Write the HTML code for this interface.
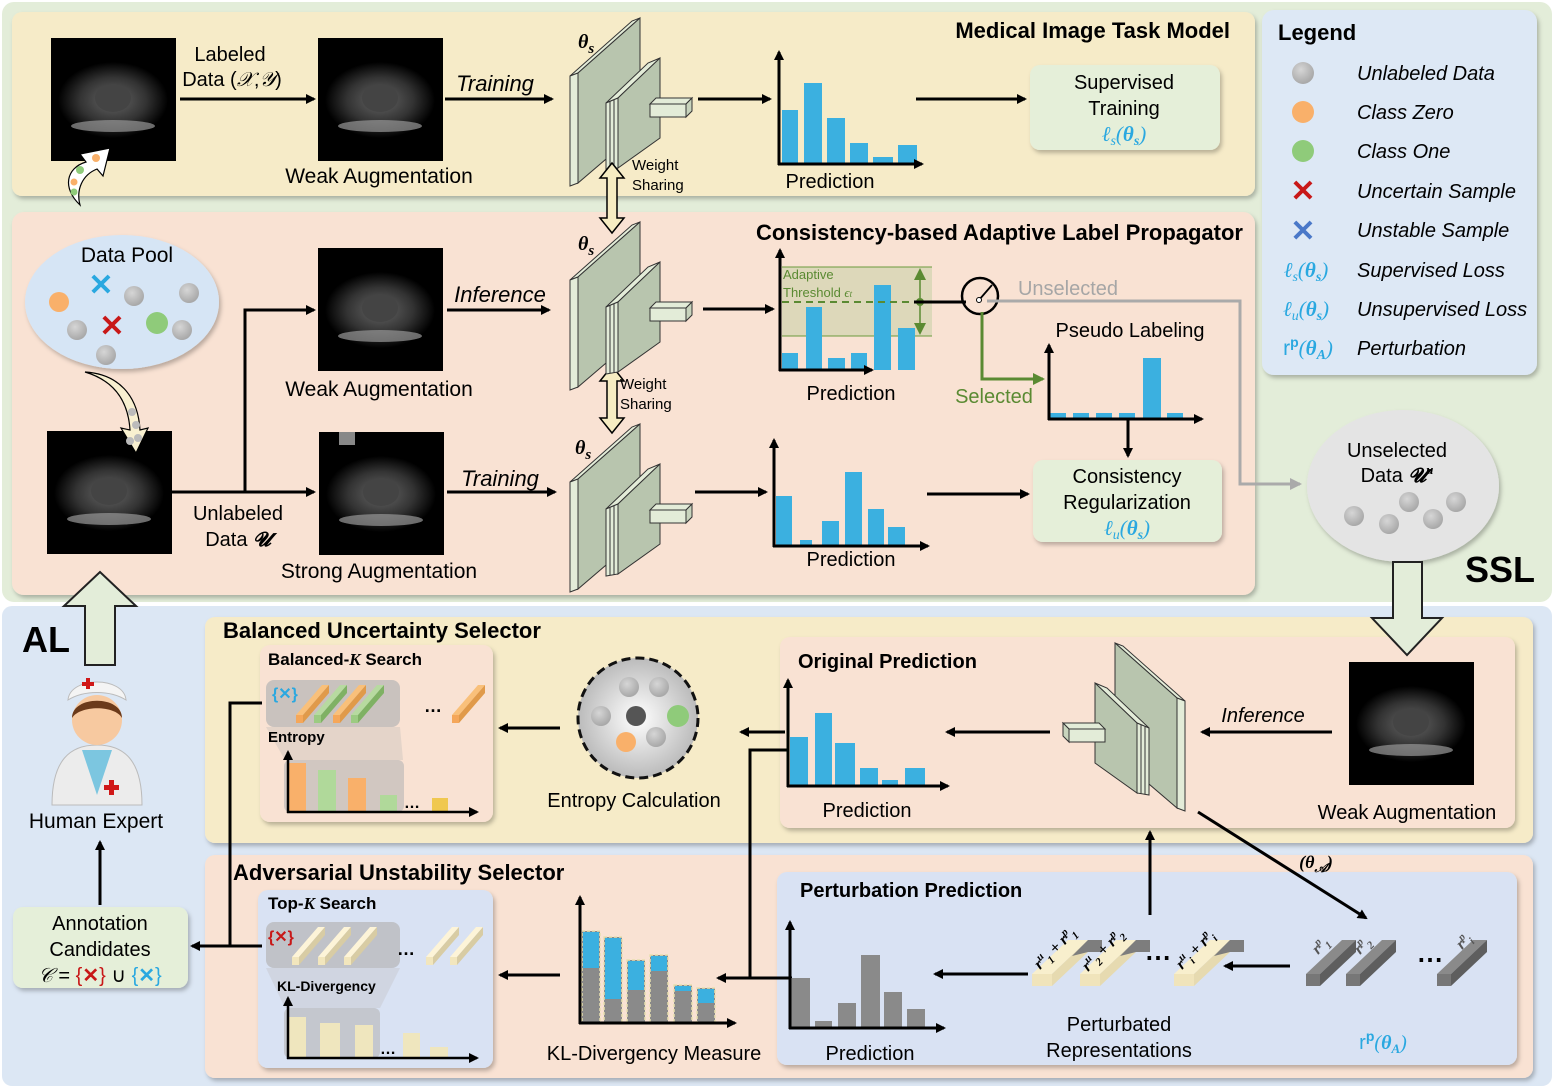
<!DOCTYPE html>
<html><head><meta charset="utf-8">
<style>
html,body{margin:0;padding:0;background:#fff;}
svg{display:block;font-family:"Liberation Sans",sans-serif;}
.m{font-family:"Liberation Serif",serif;font-style:italic;}
.b{font-weight:bold;}
.i{font-style:italic;}
</style></head><body>
<svg width="1558" height="1092" viewBox="0 0 1558 1092" xmlns="http://www.w3.org/2000/svg">
<defs>
<marker id="ah" markerWidth="10" markerHeight="10" refX="8" refY="5" orient="auto" markerUnits="userSpaceOnUse"><path d="M0,0 L10,5 L0,10 z" fill="#000"/></marker>
<marker id="ahg" markerWidth="12" markerHeight="12" refX="10" refY="6" orient="auto" markerUnits="userSpaceOnUse"><path d="M0,0 L12,6 L0,12 z" fill="#aaa"/></marker>
<marker id="ahgr" markerWidth="12" markerHeight="12" refX="10" refY="6" orient="auto" markerUnits="userSpaceOnUse"><path d="M0,0 L12,6 L0,12 z" fill="#5a8a32"/></marker>
<radialGradient id="mri" cx="50%" cy="50%" r="50%"><stop offset="0" stop-color="#666"/><stop offset="0.6" stop-color="#333"/><stop offset="1" stop-color="#000"/></radialGradient>
<radialGradient id="ent" cx="50%" cy="50%" r="50%"><stop offset="0" stop-color="#fff"/><stop offset="1" stop-color="#bbb"/></radialGradient>
<radialGradient id="dg" cx="40%" cy="35%" r="65%"><stop offset="0" stop-color="#d6d6d6"/><stop offset="1" stop-color="#a8a8a8"/></radialGradient>
<filter id="sh" x="-10%" y="-10%" width="120%" height="130%"><feDropShadow dx="2" dy="3" stdDeviation="2" flood-color="#000" flood-opacity="0.25"/></filter>
<g id="net">
<polygon points="2,58 64,3 72,0 10,55" fill="#e3ecd8" stroke="#333" stroke-width="1"/>
<polygon points="2,58 10,55 10,165 2,168" fill="#e3ecd8" stroke="#333" stroke-width="1"/>
<polygon points="10,55 72,0 72,112 10,165" fill="#b8c5ae" stroke="#333" stroke-width="1"/>
<polygon points="38,85 80,45 92,40 50,80" fill="#e3ecd8" stroke="#333"/>
<polygon points="38,85 50,80 50,150 38,152" fill="#e3ecd8" stroke="#333"/>
<line x1="42" y1="83" x2="42" y2="151" stroke="#333"/><line x1="46" y1="82" x2="46" y2="151" stroke="#333"/>
<polygon points="50,80 92,40 92,120 50,150" fill="#b8c5ae" stroke="#333"/>
<polygon points="82,86 118,86 124,80 88,80" fill="#e3ecd8" stroke="#333"/>
<rect x="82" y="86" width="36" height="13" fill="#e3ecd8" stroke="#333"/>
<polygon points="118,86 124,80 124,93 118,99" fill="#c8d4bd" stroke="#333"/>
</g>
<g id="so"><polygon points="0,42 7,42 33,12 26,12" fill="#f9c07a"/><polygon points="7,42 7,50 33,20 33,12" fill="#e09a4a"/><rect x="0" y="42" width="7" height="8" fill="#f5a75a"/></g>
<g id="sg"><polygon points="0,42 7,42 33,12 26,12" fill="#b7daa0"/><polygon points="7,42 7,50 33,20 33,12" fill="#7fb164"/><rect x="0" y="42" width="7" height="8" fill="#9ccb82"/></g>
<g id="sc"><polygon points="0,42 7,42 33,12 26,12" fill="#fdf4d8"/><polygon points="7,42 7,50 33,20 33,12" fill="#d8cca4"/><rect x="0" y="42" width="7" height="8" fill="#f2e6bd"/></g>
<g id="sgr"><polygon points="0,40 14,40 50,6 36,6" fill="#8a8a8a"/><polygon points="14,40 14,52 50,18 50,6" fill="#5e5e5e"/><rect x="0" y="40" width="14" height="12" fill="#777"/></g>
<g id="scl"><polygon points="0,40 20,40 56,6 36,6" fill="#f8efcd"/><polygon points="20,40 20,52 56,18 56,6" fill="#e6dab0"/><rect x="0" y="40" width="20" height="12" fill="#f0e4bb"/><polygon points="40,22 56,6 70,6 70,18 56,18" fill="#7d7d7d"/></g>
<g id="img"><rect width="125" height="123" fill="#000"/><ellipse cx="62" cy="62" rx="55" ry="38" fill="url(#mri)"/><ellipse cx="62" cy="88" rx="42" ry="6" fill="#999" opacity="0.7"/><ellipse cx="62" cy="60" rx="18" ry="14" fill="#444"/></g>
</defs>

<rect x="2" y="2" width="1550" height="600" rx="12" fill="#e3edd9"/>
<rect x="12" y="12" width="1243" height="184" rx="10" fill="#f6ebc8" filter="url(#sh)"/>
<rect x="12" y="212" width="1243" height="383" rx="12" fill="#f9e2d3" filter="url(#sh)"/>
<rect x="1262" y="10" width="275" height="365" rx="12" fill="#dde8f5" filter="url(#sh)"/>
<rect x="2" y="606" width="1550" height="480" rx="10" fill="#dce7f4"/>
<rect x="205" y="617" width="1328" height="226" rx="10" fill="#f6ebc8" filter="url(#sh)"/>
<rect x="205" y="855" width="1328" height="223" rx="10" fill="#f9e2d3" filter="url(#sh)"/>
<rect x="260" y="645" width="233" height="177" rx="10" fill="#f9e2d3" filter="url(#sh)"/>
<rect x="780" y="637" width="735" height="191" rx="10" fill="#f9e2d3" filter="url(#sh)"/>
<rect x="258" y="890" width="235" height="178" rx="10" fill="#d9e2f3" filter="url(#sh)"/>
<rect x="777" y="872" width="740" height="193" rx="10" fill="#d9e2f3" filter="url(#sh)"/>

<text x="1230" y="38" font-size="22" class="b" text-anchor="end">Medical Image Task Model</text>
<text x="1243" y="240" font-size="22" class="b" text-anchor="end">Consistency-based Adaptive Label Propagator</text>
<text x="1500" y="582" font-size="36" class="b" text-anchor="middle">SSL</text>
<text x="46" y="652" font-size="36" class="b" text-anchor="middle">AL</text>
<text x="223" y="638" font-size="22" class="b">Balanced Uncertainty Selector</text>
<text x="233" y="880" font-size="22" class="b">Adversarial Unstability Selector</text>

<use href="#img" x="51" y="38"/>
<use href="#img" x="318" y="38"/>
<use href="#img" x="318" y="248"/>
<use href="#img" x="47" y="431"/>
<use href="#img" x="319" y="432"/>
<rect x="339" y="432" width="16" height="13" fill="#888"/>
<use href="#img" x="1349" y="662"/>

<text x="230" y="61" font-size="20" text-anchor="middle">Labeled</text>
<text x="232" y="86" font-size="20" text-anchor="middle">Data (<tspan class="m">𝒳</tspan>,<tspan class="m">𝒴</tspan>)</text>
<line x1="180" y1="99" x2="314" y2="99" stroke="#000" stroke-width="3" marker-end="url(#ah)"/>
<text x="379" y="183" font-size="21" text-anchor="middle">Weak Augmentation</text>
<text x="495" y="91" font-size="22" class="i" text-anchor="middle">Training</text>
<line x1="445" y1="99" x2="552" y2="99" stroke="#000" stroke-width="3" marker-end="url(#ah)"/>
<use href="#net" x="568" y="18"/>
<text x="578" y="48" font-size="20" class="m b">θ<tspan font-size="15" dy="5">s</tspan></text>
<text x="632" y="170" font-size="15">Weight</text><text x="632" y="190" font-size="15">Sharing</text>
<line x1="698" y1="99" x2="770" y2="99" stroke="#000" stroke-width="3" marker-end="url(#ah)"/>
<g fill="#3bb0e0"><rect x="782" y="110" width="16" height="54"/><rect x="804" y="83" width="18" height="81"/><rect x="827" y="118" width="18" height="46"/><rect x="850" y="143" width="18" height="21"/><rect x="873" y="157" width="20" height="7"/><rect x="898" y="145" width="19" height="19"/></g>
<line x1="779" y1="165" x2="779" y2="52" stroke="#000" stroke-width="3" marker-end="url(#ah)"/>
<line x1="778" y1="164" x2="922" y2="164" stroke="#000" stroke-width="3" marker-end="url(#ah)"/>
<text x="830" y="188" font-size="20" text-anchor="middle">Prediction</text>
<line x1="916" y1="99" x2="1025" y2="99" stroke="#000" stroke-width="3" marker-end="url(#ah)"/>
<rect x="1030" y="65" width="190" height="85" rx="10" fill="#e5efd9" filter="url(#sh)"/>
<text x="1124" y="89" font-size="20" text-anchor="middle">Supervised</text>
<text x="1124" y="115" font-size="20" text-anchor="middle">Training</text>
<text x="1124" y="141" font-size="21" text-anchor="middle" fill="#2aa8e0" class="m">ℓ<tspan font-size="14" dy="4">s</tspan><tspan dy="-4">(</tspan><tspan class="b">θ</tspan><tspan font-size="14" dy="4" class="b">s</tspan><tspan dy="-4">)</tspan></text>

<polygon points="612,163 624,178 617,178 617,218 624,218 612,233 600,218 607,218 607,178 600,178" fill="#f6ecc2" stroke="#000" stroke-width="1.5"/>
<polygon points="612,366 624,381 617,381 617,418 624,418 612,433 600,418 607,418 607,381 600,381" fill="#f6ecc2" stroke="#000" stroke-width="1.5"/>

<ellipse cx="122" cy="302" rx="97" ry="67" fill="#d6e5f5" filter="url(#sh)"/>
<text x="127" y="262" font-size="21" text-anchor="middle">Data Pool</text>
<g fill="url(#dg)"><circle cx="134" cy="296" r="10"/><circle cx="189" cy="293" r="10"/><circle cx="77" cy="330" r="10"/><circle cx="182" cy="330" r="10"/><circle cx="106" cy="355" r="10"/></g>
<circle cx="59" cy="302" r="10" fill="#f9b06a"/><circle cx="157" cy="323" r="11" fill="#8fcb7a"/>
<text x="101" y="295" font-size="30" fill="#2aa8e0" text-anchor="middle" class="b">✕</text>
<text x="112" y="336" font-size="30" fill="#c81818" text-anchor="middle" class="b">✕</text>
<path d="M80,205 C62,188 66,168 86,162 L80,154 L110,148 L103,176 L97,169 C82,175 76,190 80,205 z" fill="#fff" stroke="#000" stroke-width="1.2"/>
<circle cx="96" cy="158" r="4" fill="#f9b06a"/><circle cx="80" cy="170" r="4" fill="#8fcb7a"/><circle cx="74" cy="182" r="3.5" fill="#f9b06a"/><circle cx="74" cy="192" r="3.5" fill="#8fcb7a"/>
<path d="M85,372 C112,380 128,398 130,430 L121,428 L136,453 L148,428 L140,430 C138,395 118,374 85,372 z" fill="#f8f0d0" stroke="#000" stroke-width="1.2"/>
<circle cx="132" cy="412" r="4" fill="#bbb"/><circle cx="136" cy="425" r="4" fill="#bbb"/><circle cx="138" cy="438" r="4" fill="#bbb"/><circle cx="130" cy="441" r="4" fill="#bbb"/>

<polyline points="172,492 245,492 245,310 314,310" fill="none" stroke="#000" stroke-width="3" marker-end="url(#ah)"/>
<line x1="172" y1="492" x2="314" y2="492" stroke="#000" stroke-width="3" marker-end="url(#ah)"/>
<text x="238" y="520" font-size="20" text-anchor="middle">Unlabeled</text>
<text x="238" y="546" font-size="20" text-anchor="middle">Data <tspan class="m b">𝓤</tspan></text>
<text x="379" y="396" font-size="21" text-anchor="middle">Weak Augmentation</text>
<text x="379" y="578" font-size="21" text-anchor="middle">Strong Augmentation</text>
<text x="500" y="302" font-size="22" class="i" text-anchor="middle">Inference</text>
<line x1="447" y1="310" x2="549" y2="310" stroke="#000" stroke-width="3" marker-end="url(#ah)"/>
<text x="500" y="486" font-size="22" class="i" text-anchor="middle">Training</text>
<line x1="447" y1="492" x2="555" y2="492" stroke="#000" stroke-width="3" marker-end="url(#ah)"/>
<use href="#net" x="568" y="222"/>
<text x="578" y="250" font-size="20" class="m b">θ<tspan font-size="15" dy="5">s</tspan></text>
<text x="620" y="389" font-size="15">Weight</text><text x="620" y="409" font-size="15">Sharing</text>
<use href="#net" x="568" y="424"/>
<text x="575" y="454" font-size="20" class="m b">θ<tspan font-size="15" dy="5">s</tspan></text>

<line x1="703" y1="309" x2="773" y2="309" stroke="#000" stroke-width="3" marker-end="url(#ah)"/>
<rect x="782" y="267" width="150" height="69" fill="#d6d6b4" opacity="0.8"/>
<line x1="782" y1="267" x2="932" y2="267" stroke="#6a9a3c" stroke-width="1"/>
<line x1="782" y1="336" x2="932" y2="336" stroke="#6a9a3c" stroke-width="1"/>
<g fill="#3bb0e0"><rect x="782" y="353" width="16" height="17"/><rect x="806" y="307" width="16" height="63"/><rect x="828" y="358" width="17" height="12"/><rect x="851" y="353" width="16" height="17"/><rect x="874" y="285" width="17" height="85"/><rect x="898" y="328" width="17" height="42"/></g>
<line x1="782" y1="302" x2="940" y2="302" stroke="#5a8a32" stroke-width="2" stroke-dasharray="7,5"/>
<circle cx="920" cy="302" r="4" fill="#5a8a32"/>
<line x1="920" y1="298" x2="920" y2="270" stroke="#5a8a32" stroke-width="1.5" marker-end="url(#ahgr)"/>
<line x1="920" y1="306" x2="920" y2="333" stroke="#5a8a32" stroke-width="1.5" marker-end="url(#ahgr)"/>
<line x1="780" y1="371" x2="780" y2="250" stroke="#000" stroke-width="3" marker-end="url(#ah)"/>
<line x1="779" y1="370" x2="872" y2="370" stroke="#000" stroke-width="3" marker-end="url(#ah)"/>
<text x="783" y="279" font-size="13" fill="#5a8a32">Adaptive</text>
<text x="783" y="297" font-size="13" fill="#5a8a32">Threshold <tspan class="m">ϵ</tspan><tspan font-size="9" class="m">t</tspan></text>
<text x="851" y="400" font-size="20" text-anchor="middle">Prediction</text>
<line x1="914" y1="302" x2="966" y2="302" stroke="#000" stroke-width="3"/>
<circle cx="980" cy="296" r="18" fill="none" stroke="#000" stroke-width="2.5"/>
<line x1="979" y1="300" x2="992" y2="285" stroke="#000" stroke-width="1.8"/>
<circle cx="979" cy="300" r="2.5" fill="#fff" stroke="#000"/>
<polyline points="987,301 1240,301 1240,484 1300,484" fill="none" stroke="#aaa" stroke-width="3" marker-end="url(#ahg)"/>
<text x="1068" y="295" font-size="20" fill="#a6a6a6" text-anchor="middle">Unselected</text>
<polyline points="982,312 982,379 1043,379" fill="none" stroke="#5a8a32" stroke-width="3" marker-end="url(#ahgr)"/>
<text x="994" y="403" font-size="20" fill="#5a8a32" text-anchor="middle">Selected</text>
<text x="1130" y="337" font-size="20" text-anchor="middle">Pseudo  Labeling</text>
<g fill="#3bb0e0"><rect x="1050" y="413" width="16" height="6"/><rect x="1073" y="413" width="16" height="6"/><rect x="1096" y="413" width="16" height="6"/><rect x="1119" y="413" width="16" height="6"/><rect x="1143" y="358" width="18" height="61"/><rect x="1167" y="413" width="16" height="6"/></g>
<line x1="1049" y1="420" x2="1049" y2="345" stroke="#000" stroke-width="3" marker-end="url(#ah)"/>
<line x1="1048" y1="419" x2="1202" y2="419" stroke="#000" stroke-width="3" marker-end="url(#ah)"/>
<line x1="1128" y1="420" x2="1128" y2="456" stroke="#000" stroke-width="3" marker-end="url(#ah)"/>
<rect x="1033" y="460" width="189" height="82" rx="10" fill="#e5efd9" filter="url(#sh)"/>
<text x="1127" y="483" font-size="20" text-anchor="middle">Consistency</text>
<text x="1127" y="509" font-size="20" text-anchor="middle">Regularization</text>
<text x="1127" y="535" font-size="21" text-anchor="middle" fill="#2aa8e0" class="m">ℓ<tspan font-size="14" dy="4">u</tspan><tspan dy="-4">(</tspan><tspan class="b">θ</tspan><tspan font-size="14" dy="4" class="b">s</tspan><tspan dy="-4">)</tspan></text>
<line x1="695" y1="492" x2="766" y2="492" stroke="#000" stroke-width="3" marker-end="url(#ah)"/>
<g fill="#3bb0e0"><rect x="776" y="496" width="16" height="50"/><rect x="800" y="540" width="12" height="6"/><rect x="822" y="521" width="17" height="25"/><rect x="845" y="472" width="17" height="74"/><rect x="868" y="509" width="16" height="37"/><rect x="888" y="527" width="17" height="19"/></g>
<line x1="774" y1="547" x2="774" y2="440" stroke="#000" stroke-width="3" marker-end="url(#ah)"/>
<line x1="773" y1="546" x2="928" y2="546" stroke="#000" stroke-width="3" marker-end="url(#ah)"/>
<text x="851" y="566" font-size="20" text-anchor="middle">Prediction</text>
<line x1="927" y1="494" x2="1028" y2="494" stroke="#000" stroke-width="3" marker-end="url(#ah)"/>

<ellipse cx="1403" cy="486" rx="96" ry="76" fill="#e4e4e4" filter="url(#sh)"/>
<text x="1397" y="457" font-size="20" text-anchor="middle">Unselected</text>
<text x="1397" y="482" font-size="20" text-anchor="middle">Data <tspan class="m b">𝓤</tspan><tspan font-size="13" class="m b" dy="-8">u</tspan></text>
<g fill="url(#dg)"><circle cx="1354" cy="516" r="10"/><circle cx="1389" cy="524" r="10"/><circle cx="1409" cy="502" r="10"/><circle cx="1433" cy="519" r="10"/><circle cx="1456" cy="502" r="10"/></g>

<polygon points="1393,562 1422,562 1422,618 1442,618 1407,655 1372,618 1393,618" fill="#e3edd9" stroke="#222" stroke-width="2"/>
<polygon points="85,665 115,665 115,606 136,606 100,572 64,606 85,606" fill="#e3edd9" stroke="#222" stroke-width="2"/>

<text x="1278" y="40" font-size="22" class="b">Legend</text>
<g font-size="20" class="i">
<text x="1357" y="80">Unlabeled Data</text>
<text x="1357" y="119">Class Zero</text>
<text x="1357" y="158">Class One</text>
<text x="1357" y="198">Uncertain Sample</text>
<text x="1357" y="237">Unstable Sample</text>
<text x="1357" y="277">Supervised Loss</text>
<text x="1357" y="316">Unsupervised Loss</text>
<text x="1357" y="355">Perturbation</text>
</g>
<circle cx="1303" cy="73" r="11" fill="url(#dg)"/>
<circle cx="1303" cy="112" r="11" fill="#f9b06a"/>
<circle cx="1303" cy="151" r="11" fill="#8fcb7a"/>
<text x="1303" y="201" font-size="30" fill="#c81818" text-anchor="middle" class="b">✕</text>
<text x="1303" y="241" font-size="30" fill="#4a78c8" text-anchor="middle" class="b">✕</text>
<g fill="#2aa8e0" font-size="21" class="m" text-anchor="middle">
<text x="1306" y="277">ℓ<tspan font-size="14" dy="4">s</tspan><tspan dy="-4">(</tspan><tspan class="b">θ</tspan><tspan font-size="14" dy="4" class="b">s</tspan><tspan dy="-4">)</tspan></text>
<text x="1306" y="316">ℓ<tspan font-size="14" dy="4">u</tspan><tspan dy="-4">(</tspan><tspan class="b">θ</tspan><tspan font-size="14" dy="4" class="b">s</tspan><tspan dy="-4">)</tspan></text>
<text x="1308" y="355"><tspan font-style="normal" font-family="Liberation Sans">r</tspan><tspan font-size="14" dy="-8" class="b" font-style="normal" font-family="Liberation Sans">p</tspan><tspan dy="8">(</tspan><tspan class="b">θ</tspan><tspan font-size="14" dy="4" class="b">A</tspan><tspan dy="-4">)</tspan></text>
</g>

<path d="M52,805 C52,760 70,745 97,745 C124,745 142,760 142,805 z" fill="#ececec" stroke="#bbb"/>
<polygon points="82,750 112,750 97,795" fill="#7cc6e0"/>
<circle cx="97" cy="720" r="25" fill="#f7c9a0"/>
<path d="M72,718 C72,695 122,695 122,718 C115,705 80,705 72,718 z" fill="#6b3a1a"/>
<path d="M68,700 C70,676 124,676 126,700 C110,690 84,690 68,700 z" fill="#f4f4f4" stroke="#bbb"/>
<rect x="86" y="678" width="4" height="11" fill="#d01818"/><rect x="82" y="682" width="12" height="4" fill="#d01818"/>
<rect x="109" y="780" width="5" height="15" fill="#d01818"/><rect x="104" y="785" width="15" height="5" fill="#d01818"/>
<text x="96" y="828" font-size="21" text-anchor="middle">Human Expert</text>
<line x1="100" y1="905" x2="100" y2="842" stroke="#000" stroke-width="3" marker-end="url(#ah)"/>
<rect x="13" y="907" width="175" height="81" rx="10" fill="#e5efd9" filter="url(#sh)"/>
<text x="100" y="930" font-size="20" text-anchor="middle">Annotation</text>
<text x="100" y="956" font-size="20" text-anchor="middle">Candidates</text>
<text x="100" y="982" font-size="20" text-anchor="middle"><tspan class="m">𝒞</tspan> = <tspan fill="#c81818">{<tspan class="b">✕</tspan>}</tspan> ∪ <tspan fill="#2aa8e0">{<tspan class="b">✕</tspan>}</tspan></text>
<polyline points="262,703 230,703 230,946" fill="none" stroke="#000" stroke-width="3"/>
<line x1="262" y1="946" x2="192" y2="946" stroke="#000" stroke-width="3" marker-end="url(#ah)"/>

<text x="268" y="665" font-size="17" class="b">Balanced-<tspan class="m">K</tspan> Search</text>
<rect x="266" y="680" width="134" height="47" rx="8" fill="#b5b5b5" opacity="0.7"/>
<polygon points="266,727 400,727 403,760 285,760" fill="#d0c6c0" opacity="0.5"/>
<rect x="284" y="760" width="120" height="52" rx="6" fill="#b5b5b5" opacity="0.6"/>
<text x="272" y="699" font-size="16" fill="#2aa8e0" class="b">{✕}</text>
<use href="#so" x="296" y="673"/><use href="#sg" x="314" y="673"/><use href="#so" x="333" y="673"/><use href="#sg" x="351" y="673"/>
<text x="424" y="712" font-size="18" class="b">…</text>
<use href="#so" x="452" y="673"/>
<text x="268" y="742" font-size="15" class="b">Entropy</text>
<rect x="288" y="763" width="18" height="49" fill="#f9b06a"/><rect x="318" y="770" width="18" height="42" fill="#b0d99a"/><rect x="348" y="778" width="18" height="34" fill="#f9b06a"/><rect x="380" y="795" width="17" height="17" fill="#b0d99a"/>
<text x="404" y="808" font-size="16" class="b">…</text>
<rect x="432" y="798" width="16" height="14" fill="#f0c850"/>
<line x1="288" y1="813" x2="288" y2="752" stroke="#000" stroke-width="2.5" marker-end="url(#ah)"/>
<line x1="287" y1="812" x2="477" y2="812" stroke="#000" stroke-width="2.5" marker-end="url(#ah)"/>
<line x1="560" y1="728" x2="500" y2="728" stroke="#000" stroke-width="3" marker-end="url(#ah)"/>
<circle cx="638" cy="718" r="60" fill="url(#ent)" stroke="#111" stroke-width="3" stroke-dasharray="9,5"/>
<g fill="url(#dg)"><circle cx="629" cy="687" r="10"/><circle cx="659" cy="687" r="10"/><circle cx="601" cy="716" r="10"/><circle cx="656" cy="737" r="10"/></g>
<circle cx="636" cy="716" r="10" fill="#555"/><circle cx="678" cy="716" r="11" fill="#8fcb7a"/><circle cx="626" cy="742" r="10" fill="#f9b06a"/>
<text x="634" y="807" font-size="20" text-anchor="middle">Entropy Calculation</text>
<line x1="785" y1="732" x2="741" y2="732" stroke="#000" stroke-width="3" marker-end="url(#ah)"/>

<text x="798" y="668" font-size="20" class="b">Original Prediction</text>
<g fill="#3bb0e0"><rect x="790" y="737" width="18" height="49"/><rect x="815" y="713" width="17" height="73"/><rect x="835" y="743" width="20" height="43"/><rect x="860" y="768" width="18" height="18"/><rect x="882" y="780" width="16" height="6"/><rect x="905" y="768" width="20" height="18"/></g>
<line x1="788" y1="787" x2="788" y2="680" stroke="#000" stroke-width="3" marker-end="url(#ah)"/>
<line x1="787" y1="786" x2="948" y2="786" stroke="#000" stroke-width="3" marker-end="url(#ah)"/>
<text x="867" y="817" font-size="20" text-anchor="middle">Prediction</text>
<line x1="1050" y1="732" x2="947" y2="732" stroke="#000" stroke-width="3" marker-end="url(#ah)"/>
<use href="#net" transform="translate(1187,643) scale(-1,1)"/>
<text x="1263" y="722" font-size="20" class="i" text-anchor="middle">Inference</text>
<line x1="1332" y1="732" x2="1202" y2="732" stroke="#000" stroke-width="3" marker-end="url(#ah)"/>
<text x="1407" y="819" font-size="20" text-anchor="middle">Weak Augmentation</text>
<polyline points="788,750 750,750 750,978" fill="none" stroke="#000" stroke-width="3"/>
<line x1="792" y1="978" x2="718" y2="978" stroke="#000" stroke-width="3" marker-end="url(#ah)"/>
<line x1="1150" y1="915" x2="1150" y2="832" stroke="#000" stroke-width="3" marker-end="url(#ah)"/>
<line x1="1198" y1="812" x2="1366" y2="918" stroke="#000" stroke-width="3" marker-end="url(#ah)"/>
<text x="1316" y="868" font-size="18" class="m b" text-anchor="middle">(θ<tspan font-size="13" dy="4">𝒜</tspan><tspan dy="-4">)</tspan></text>

<text x="800" y="897" font-size="20" class="b">Perturbation Prediction</text>
<g fill="#8a8a8a"><rect x="790" y="978" width="20" height="50"/><rect x="815" y="1021" width="17" height="7"/><rect x="838" y="1003" width="18" height="25"/><rect x="861" y="955" width="19" height="73"/><rect x="884" y="992" width="18" height="36"/><rect x="907" y="1009" width="18" height="19"/></g>
<line x1="790" y1="1029" x2="790" y2="922" stroke="#000" stroke-width="3" marker-end="url(#ah)"/>
<line x1="789" y1="1028" x2="944" y2="1028" stroke="#000" stroke-width="3" marker-end="url(#ah)"/>
<text x="870" y="1060" font-size="20" text-anchor="middle">Prediction</text>
<line x1="1028" y1="974" x2="935" y2="974" stroke="#000" stroke-width="3" marker-end="url(#ah)"/>
<use href="#scl" x="1032" y="934"/><use href="#scl" x="1080" y="934"/><use href="#scl" x="1174" y="934"/>
<text x="1158" y="966" font-size="26" class="b" text-anchor="middle">⋯</text>
<g font-size="16" class="m b" fill="#000">
<text transform="translate(1040,970) rotate(-45)">r<tspan font-size="11" dy="-6">u</tspan><tspan font-size="11" dy="10">1</tspan><tspan dy="-4"> + r</tspan><tspan font-size="11" dy="-6">p</tspan><tspan font-size="11" dy="10">1</tspan></text>
<text transform="translate(1088,972) rotate(-45)">r<tspan font-size="11" dy="-6">u</tspan><tspan font-size="11" dy="10">2</tspan><tspan dy="-4"> + r</tspan><tspan font-size="11" dy="-6">p</tspan><tspan font-size="11" dy="10">2</tspan></text>
<text transform="translate(1182,970) rotate(-45)">r<tspan font-size="11" dy="-6">u</tspan><tspan font-size="11" dy="10">i</tspan><tspan dy="-4"> + r</tspan><tspan font-size="11" dy="-6">p</tspan><tspan font-size="11" dy="10">i</tspan></text>
</g>
<text x="1119" y="1031" font-size="20" text-anchor="middle">Perturbated</text>
<text x="1119" y="1057" font-size="20" text-anchor="middle">Representations</text>
<line x1="1290" y1="966" x2="1225" y2="966" stroke="#000" stroke-width="3" marker-end="url(#ah)"/>
<use href="#sgr" x="1306" y="934"/><use href="#sgr" x="1346" y="934"/><use href="#sgr" x="1437" y="934"/>
<text x="1430" y="968" font-size="26" class="b" text-anchor="middle">⋯</text>
<g font-size="16" class="m b" fill="#555">
<text transform="translate(1318,955) rotate(-45)">r<tspan font-size="11" dy="-6">p</tspan><tspan font-size="11" dy="10">1</tspan></text>
<text transform="translate(1360,955) rotate(-45)">r<tspan font-size="11" dy="-6">p</tspan><tspan font-size="11" dy="10">2</tspan></text>
<text transform="translate(1462,950) rotate(-45)">r<tspan font-size="11" dy="-6">p</tspan><tspan font-size="11" dy="10">i</tspan></text>
</g>
<text x="1383" y="1049" font-size="20" fill="#2aa8e0" text-anchor="middle">r<tspan font-size="14" dy="-8" class="b">p</tspan><tspan dy="8" class="m">(</tspan><tspan class="m b">θ</tspan><tspan font-size="13" dy="4" class="m b">A</tspan><tspan dy="-4" class="m">)</tspan></text>

<g stroke="#e8e0b0" stroke-width="1.5" stroke-dasharray="3,2">
<rect x="582" y="931" width="18" height="92" fill="#8a8a8a"/><rect x="604" y="937" width="18" height="86" fill="#8a8a8a"/><rect x="627" y="960" width="18" height="63" fill="#8a8a8a"/><rect x="650" y="955" width="18" height="68" fill="#8a8a8a"/><rect x="674" y="985" width="18" height="38" fill="#8a8a8a"/><rect x="697" y="988" width="18" height="35" fill="#8a8a8a"/>
</g>
<g fill="#3bb0e0"><rect x="583" y="932" width="16" height="36"/><rect x="605" y="938" width="16" height="61"/><rect x="628" y="961" width="16" height="29"/><rect x="651" y="956" width="16" height="15"/><rect x="675" y="986" width="16" height="5"/><rect x="698" y="989" width="16" height="14"/></g>
<line x1="580" y1="1024" x2="580" y2="897" stroke="#000" stroke-width="3" marker-end="url(#ah)"/>
<line x1="579" y1="1023" x2="735" y2="1023" stroke="#000" stroke-width="3" marker-end="url(#ah)"/>
<text x="654" y="1060" font-size="20" text-anchor="middle">KL-Divergency Measure</text>
<line x1="560" y1="975" x2="500" y2="975" stroke="#000" stroke-width="3" marker-end="url(#ah)"/>

<text x="268" y="909" font-size="17" class="b">Top-<tspan class="m">K</tspan> Search</text>
<rect x="266" y="922" width="134" height="46" rx="8" fill="#b5b5b5" opacity="0.7"/>
<polygon points="266,968 400,968 380,1008 285,1008" fill="#c8c8d0" opacity="0.5"/>
<rect x="284" y="1008" width="96" height="50" rx="6" fill="#b5b5b5" opacity="0.6"/>
<text x="268" y="942" font-size="16" fill="#c81818" class="b">{✕}</text>
<use href="#sc" x="292" y="915"/><use href="#sc" x="318" y="915"/><use href="#sc" x="344" y="915"/>
<text x="397" y="955" font-size="18" class="b">…</text>
<use href="#sc" x="426" y="915"/><use href="#sc" x="450" y="915"/>
<text x="277" y="991" font-size="14" class="b">KL-Divergency</text>
<g fill="#efe6be"><rect x="288" y="1017" width="18" height="41"/><rect x="320" y="1023" width="20" height="35"/><rect x="355" y="1025" width="18" height="33"/><rect x="403" y="1033" width="17" height="25"/><rect x="430" y="1047" width="18" height="11"/></g>
<text x="380" y="1054" font-size="16" class="b">…</text>
<line x1="288" y1="1059" x2="288" y2="998" stroke="#000" stroke-width="2.5" marker-end="url(#ah)"/>
<line x1="287" y1="1058" x2="477" y2="1058" stroke="#000" stroke-width="2.5" marker-end="url(#ah)"/>
</svg>
</body></html>
